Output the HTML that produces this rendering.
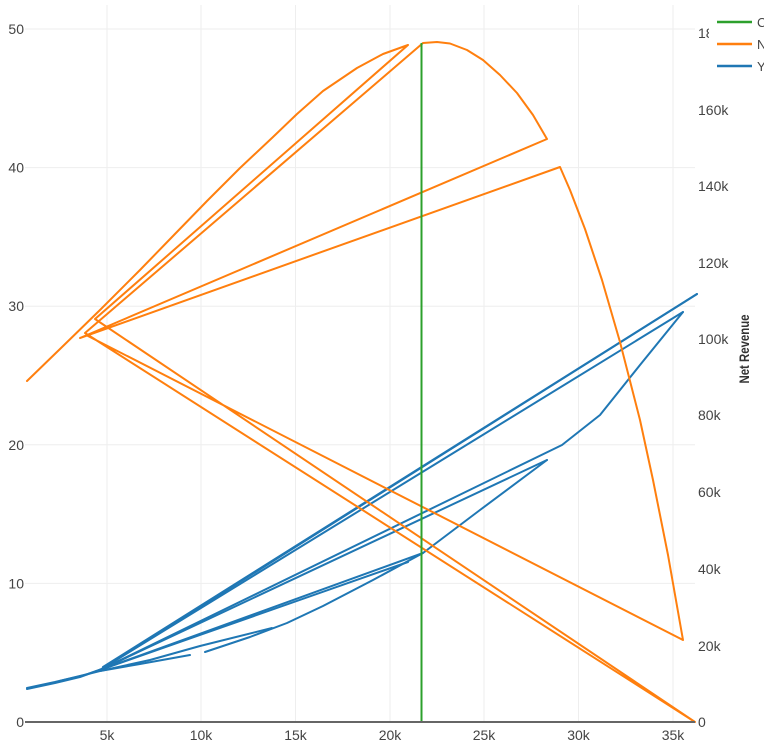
<!DOCTYPE html>
<html>
<head>
<meta charset="utf-8">
<style>
html,body{margin:0;padding:0;background:#fff;overflow:hidden;}
svg{display:block;}
text{font-family:"Liberation Sans",Arial,sans-serif;fill:#444;}
</style>
</head>
<body>
<svg width="764" height="751" viewBox="0 0 764 751" xmlns="http://www.w3.org/2000/svg">
<rect width="764" height="751" fill="#fff"/>
<!-- vertical gridlines -->
<g stroke="#eeeeee" stroke-width="1">
<line x1="107" y1="5" x2="107" y2="722"/>
<line x1="201" y1="5" x2="201" y2="722"/>
<line x1="295.5" y1="5" x2="295.5" y2="722"/>
<line x1="390" y1="5" x2="390" y2="722"/>
<line x1="484" y1="5" x2="484" y2="722"/>
<line x1="578.5" y1="5" x2="578.5" y2="722"/>
<line x1="673" y1="5" x2="673" y2="722"/>
<!-- horizontal gridlines -->
<line x1="25" y1="29" x2="695" y2="29"/>
<line x1="25" y1="167.6" x2="695" y2="167.6"/>
<line x1="25" y1="306.2" x2="695" y2="306.2"/>
<line x1="25" y1="444.8" x2="695" y2="444.8"/>
<line x1="25" y1="583.4" x2="695" y2="583.4"/>
</g>

<!-- left axis labels -->
<g font-size="14" text-anchor="end">
<text x="24" y="34">50</text>
<text x="24" y="172.6">40</text>
<text x="24" y="311.2">30</text>
<text x="24" y="449.8">20</text>
<text x="24" y="588.4">10</text>
<text x="24" y="727">0</text>
</g>

<!-- right axis labels -->
<g font-size="14" text-anchor="start">
<text x="698" y="38">180k</text>
<text x="698" y="115">160k</text>
<text x="698" y="191">140k</text>
<text x="698" y="268">120k</text>
<text x="698" y="344">100k</text>
<text x="698" y="420">80k</text>
<text x="698" y="497">60k</text>
<text x="698" y="574">40k</text>
<text x="698" y="651">20k</text>
<text x="698" y="727">0</text>
</g>

<!-- x labels -->
<g font-size="14" text-anchor="middle">
<text x="107" y="740">5k</text>
<text x="201" y="740">10k</text>
<text x="295.5" y="740">15k</text>
<text x="390" y="740">20k</text>
<text x="484" y="740">25k</text>
<text x="578.5" y="740">30k</text>
<text x="673" y="740">35k</text>
</g>

<!-- axis title -->
<text x="0" y="0" font-size="14" font-weight="bold" text-anchor="middle" textLength="69" lengthAdjust="spacingAndGlyphs" transform="translate(749,349) rotate(-90)" style="fill:#333">Net Revenue</text>

<!-- blue series -->
<g fill="none" stroke="#1f77b4" stroke-width="2" stroke-linejoin="round" stroke-linecap="round">
<polyline points="27,688 55,682 80,676 100,671 140,664 190,655"/>
<polyline points="27,689 55,683 80,677 102,669"/>
<polyline points="60,681 85,675 105,668"/>
<polyline points="100,671 150,660 200,646 272,628"/>
<polyline points="100,670 408,562"/>
<polyline points="100,670 423,553"/>
<polyline points="205,652 223,646 250,637 287,623 323,606 373,580 423,553 480,510 547,460"/>
<polyline points="100,670 547,460"/>
<polyline points="100,670 562,445 600,415 640,365 683,312"/>
<polyline points="100,670 683,312"/>
<polyline points="100,670 697,294"/>
<polyline points="103,667 697,294"/>
</g>

<!-- orange series -->
<polyline fill="none" stroke="#ff7f0e" stroke-width="2" stroke-linejoin="round" stroke-linecap="round"
points="27,381 60,349 100,310 140,270 173,236 207,201 240,168 273,137 297,114 323,91 357,68 383,54 408,45 95,319 695,722 85,333 423,43 437,42 450,43.5 467,50 483,60 500,75 517,93 533,115 547,139 80,338 560,167 570,190 585,229 602,280 620,342 640,420 653,480 668,555 683,640 88,336"/>

<!-- green vertical -->
<line x1="421.5" y1="43" x2="421.5" y2="722" stroke="#2ca02c" stroke-width="2"/>

<!-- x axis line -->
<line x1="25" y1="722" x2="695" y2="722" stroke="#666" stroke-width="2"/>

<!-- legend -->
<rect x="709" y="5" width="55" height="78" fill="#fff"/>
<line x1="717" y1="22" x2="752" y2="22" stroke="#2ca02c" stroke-width="2.5"/>
<line x1="717" y1="44" x2="752" y2="44" stroke="#ff7f0e" stroke-width="2.5"/>
<line x1="717" y1="66" x2="752" y2="66" stroke="#1f77b4" stroke-width="2.5"/>
<g font-size="13">
<text x="757" y="27">Customers</text>
<text x="757" y="49">Net Margin</text>
<text x="757" y="71">Year</text>
</g>
</svg>
</body>
</html>
